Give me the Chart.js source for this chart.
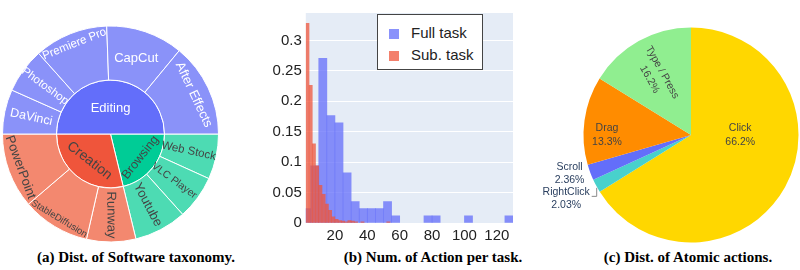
<!DOCTYPE html>
<html>
<head>
<meta charset="utf-8">
<script src="https://cdn.jsdelivr.net/npm/chart.js@4.4.1/dist/chart.umd.min.js"></script>
<style>
  body { margin: 0; width: 800px; height: 270px; background: #fff; position: relative; overflow: hidden;
         font-family: "Liberation Sans", Arial, sans-serif; }
  canvas { position: absolute; }
  .cap { position: absolute; top: 249px; transform: translateX(-50%); white-space: nowrap;
         font: bold 15px "Liberation Serif", "Times New Roman", serif; color: #000; }
  #legend { position: absolute; left: 377px; top: 14px; width: 106px; height: 56px; box-sizing: border-box;
            border: 1px solid #444; background: #fff; }
  #legend .row { position: absolute; left: 11px; height: 18px; line-height: 18px; font-size: 15px; color: #222; }
  #legend .sw { display: inline-block; width: 10px; height: 10px; vertical-align: -1px; margin-right: 12px; }
</style>
</head>
<body>
<canvas id="sunburst" width="221" height="228" style="left:0;top:20px"></canvas>
<canvas id="hist" width="260" height="245" style="left:265px;top:0"></canvas>
<canvas id="pie" width="270" height="216" style="left:530px;top:27px"></canvas>
<div id="legend"></div>
<div class="cap" style="left:136px">(a) Dist. of Software taxonomy.</div>
<div class="cap" style="left:433px">(b) Num. of Action per task.</div>
<div class="cap" style="left:688px">(c) Dist. of Atomic actions.</div>

<script>
// ---- (a) software taxonomy (percent of tasks) ----
const groupLabels = ["Browsing", "Creation", "Editing"];
const groupValues = [21.22, 28.78, 50.0];
const softLabels = ["Web Stock", "VLC Player", "Youtube", "Runway", "StableDiffusion", "PowerPoint",
                    "DaVinci", "Photoshop", "Premiere Pro", "CapCut", "After Effects"];
const softGroup = [0, 0, 0, 1, 1, 1, 2, 2, 2, 2, 2];
const softValues = [6.78, 6.58, 7.86, 7.36, 10.17, 11.25, 6.67, 6.75, 11.03, 11.53, 14.03];

// ---- (b) actions per task histogram ----
const fullBinStart = [0, 5, 10, 15, 20, 25, 30, 35, 40, 45, 50, 55, 75, 80, 100, 125];
const fullShare = [0.0235, 0.0941, 0.2706, 0.1765, 0.1647, 0.0824, 0.0353, 0.0235, 0.0235, 0.0235,
                   0.0353, 0.0118, 0.0118, 0.0118, 0.0118, 0.0118];
const subBinStart = [2, 4, 6, 8, 10, 12, 14, 16, 18, 20, 22, 24, 26, 28, 30, 32, 36, 52];
const subShare = [0.328, 0.226, 0.13, 0.094, 0.062, 0.047, 0.031, 0.021, 0.010, 0.006, 0.004, 0.003,
                  0.002, 0.004, 0.003, 0.002, 0.002, 0.002];
const fullBinWidth = 5;
const subBinWidth = 2;
const xTicks = [20, 40, 60, 80, 100, 120];
const yTicks = [0, 0.05, 0.1, 0.15, 0.2, 0.25, 0.3];
const seriesNames = ["Full task", "Sub. task"];

// ---- (c) atomic actions ----
const actionLabels = ["Click", "RightClick", "Scroll", "Drag", "Type / Press"];
const actionShare = [66.2, 2.03, 2.36, 13.3, 16.2];

// colours
const groupColors = ["#00CC96", "#EF553B", "#636EFA"];
const softColors = ["#4DDBB3", "#F3886F", "#8A92F9"];
const actionColors = ["#FFD700", "#48D1CC", "#636EFA", "#FF8C00", "#90EE90"];
const fullColor = "rgba(99,110,250,0.75)";
const subColor = "rgba(239,85,59,0.75)";

const FONT = '"Liberation Sans", Arial, sans-serif';

// label layout for the sunburst: mode h = horizontal, t = tangential, r = radial
const sunLabelStyle = {
  "Editing": { mode: "h", r: 26, size: 13 },
  "Creation": { mode: "t", r: 34, size: 14 },
  "Browsing": { mode: "t", r: 38, size: 12.5 },
  "CapCut": { mode: "h", r: 80, size: 13 },
  "After Effects": { mode: "t", r: 92, size: 13 },
  "Premiere Pro": { mode: "t", r: 97, size: 11.5 },
  "Photoshop": { mode: "r", r: 81, size: 11.5 },
  "DaVinci": { mode: "r", r: 81, size: 12.5 },
  "PowerPoint": { mode: "t", r: 96, size: 13 },
  "StableDiffusion": { mode: "t", r: 99, size: 9.5 },
  "Runway": { mode: "r", r: 81, size: 13 },
  "Youtube": { mode: "r", r: 80, size: 13 },
  "VLC Player": { mode: "r", r: 79, size: 10.5 },
  "Web Stock": { mode: "r", r: 80, size: 11.5 }
};

function upright(a) {
  a = ((a % (2 * Math.PI)) + 2 * Math.PI) % (2 * Math.PI);
  if (a > Math.PI / 2 && a < 3 * Math.PI / 2) a -= Math.PI;
  return a;
}

const sunLabels = {
  id: "sunLabels",
  afterDatasetsDraw(chart) {
    const ctx = chart.ctx;
    chart.data.datasets.forEach((ds, d) => {
      const meta = chart.getDatasetMeta(d);
      meta.data.forEach((arc, i) => {
        const p = arc.getProps(["x", "y", "startAngle", "endAngle"], true);
        const name = ds.labels[i];
        const st = sunLabelStyle[name];
        const mid = (p.startAngle + p.endAngle) / 2;
        const white = d === 0 ? softGroup[i] === 2 : i === 2;
        let rot = 0;
        if (st.mode === "t") rot = upright(mid + Math.PI / 2);
        if (st.mode === "r") rot = upright(mid);
        ctx.save();
        ctx.translate(p.x + st.r * Math.cos(mid), p.y + st.r * Math.sin(mid));
        ctx.rotate(rot);
        ctx.font = st.size + "px " + FONT;
        ctx.fillStyle = white ? "#fff" : "#444";
        ctx.textAlign = "center";
        ctx.textBaseline = "middle";
        ctx.fillText(name, 0, 0);
        ctx.restore();
      });
    });
  }
};

new Chart(document.getElementById("sunburst"), {
  type: "doughnut",
  data: {
    datasets: [
      { labels: softLabels, data: softValues, backgroundColor: softGroup.map(g => softColors[g]) },
      { labels: groupLabels, data: groupValues, backgroundColor: groupColors }
    ]
  },
  options: {
    responsive: false,
    animation: false,
    rotation: 90,
    cutout: 0,
    radius: 108,
    borderColor: "#fff",
    borderWidth: 1,
    hoverOffset: 0,
    layout: { padding: 0 },
    plugins: { legend: { display: false }, tooltip: { enabled: false } }
  },
  plugins: [sunLabels]
});

// ---- histogram ----
const plotBg = {
  id: "plotBg",
  beforeDraw(chart) {
    const a = chart.chartArea;
    chart.ctx.save();
    chart.ctx.fillStyle = "#E5ECF6";
    chart.ctx.fillRect(a.left, a.top, a.right - a.left, a.bottom - a.top);
    chart.ctx.restore();
  }
};

const tickFont = { family: FONT, size: 15 };

new Chart(document.getElementById("hist"), {
  type: "bar",
  data: {
    datasets: [
      {
        label: seriesNames[0],
        data: fullBinStart.map((s, i) => ({ x: s + fullBinWidth / 2, y: fullShare[i] })),
        backgroundColor: fullColor, xAxisID: "x", order: 1
      },
      {
        label: seriesNames[1],
        data: subBinStart.map((s, i) => ({ x: s + subBinWidth / 2, y: subShare[i] })),
        backgroundColor: subColor, xAxisID: "x2", order: 0
      }
    ]
  },
  options: {
    responsive: false,
    animation: false,
    layout: { padding: { top: 3, right: 12, left: 0, bottom: 0 } },
    datasets: { bar: { barPercentage: 1, categoryPercentage: 1, grouped: false, borderWidth: 0 } },
    scales: {
      x: {
        type: "linear", min: 2, max: 130, offset: false,
        afterBuildTicks: s => { s.ticks = xTicks.map(v => ({ value: v })); },
        afterFit: s => { s.height = 22; s.paddingLeft = 0; s.paddingRight = 0; },
        grid: { display: false, offset: false, drawTicks: false },
        border: { display: false },
        ticks: { font: tickFont, color: "#222", padding: 4, maxRotation: 0, callback: v => String(v) }
      },
      x2: { type: "linear", min: 2, max: 130, offset: false, display: false, grid: { offset: false } },
      y: {
        min: 0, max: 0.345,
        afterBuildTicks: s => { s.ticks = yTicks.map(v => ({ value: v })); },
        afterFit: s => { s.width = 40.8; },
        grid: { color: "#fff", lineWidth: 1, drawTicks: false },
        border: { display: false },
        ticks: { font: tickFont, color: "#222", padding: 4, callback: v => String(v) }
      }
    },
    plugins: { legend: { display: false }, tooltip: { enabled: false } }
  },
  plugins: [plotBg]
});

const legendEl = document.getElementById("legend");
[fullColor, subColor].forEach((c, i) => {
  const row = document.createElement("div");
  row.className = "row";
  row.style.top = (9 + i * 21.5) + "px";
  row.innerHTML = '<span class="sw" style="background:' + c + '"></span>' + seriesNames[i];
  legendEl.appendChild(row);
});

// ---- pie ----
// label placement relative to the pie centre, in units of the radius
const pieLabelPos = {
  "Click": { dx: 0.458, dy: 0, rot: 0, inside: true },
  "RightClick": { dx: -1.161, dy: 0.594, rot: 0, inside: false, leader: true },
  "Scroll": { dx: -1.13, dy: 0.356, rot: 0, inside: false },
  "Drag": { dx: -0.782, dy: 0, rot: 0, inside: true },
  "Type / Press": { dx: -0.326, dy: -0.55, rot: 61, inside: true }
};

const pieLabels = {
  id: "pieLabels",
  afterDatasetsDraw(chart) {
    const ctx = chart.ctx;
    const meta = chart.getDatasetMeta(0);
    meta.data.forEach((arc, i) => {
      const p = arc.getProps(["x", "y", "outerRadius"], true);
      const name = actionLabels[i];
      const lp = pieLabelPos[name];
      const R = p.outerRadius;
      const cx = p.x + lp.dx * R, cy = p.y + lp.dy * R;
      ctx.save();
      if (lp.leader) {
        ctx.strokeStyle = "#8a8a8a";
        ctx.lineWidth = 1;
        ctx.beginPath();
        ctx.moveTo(cx + 25.5, cy - 2.5);
        ctx.lineTo(cx + 30.5, cy - 2.5);
        ctx.lineTo(cx + 30.5, cy - 11);
        ctx.stroke();
      }
      ctx.translate(cx, cy);
      ctx.rotate(lp.rot * Math.PI / 180);
      ctx.font = "10.5px " + FONT;
      ctx.fillStyle = lp.inside ? "#444" : "#2a3f5f";
      ctx.textAlign = "center";
      ctx.textBaseline = "middle";
      const lines = [name, actionShare[i].toPrecision(3) + "%"];
      const gap = lp.rot ? 14.5 : 13.3;
      ctx.fillText(lines[0], 0, -gap / 2);
      ctx.fillText(lines[1], 0, gap / 2);
      ctx.restore();
    });
  }
};

new Chart(document.getElementById("pie"), {
  type: "pie",
  data: {
    labels: actionLabels,
    datasets: [{ data: actionShare, backgroundColor: actionColors, borderWidth: 0 }]
  },
  options: {
    responsive: false,
    animation: false,
    radius: 107.5,
    hoverOffset: 0,
    layout: { padding: { left: 52, right: 0, top: 0, bottom: 0 } },
    plugins: { legend: { display: false }, tooltip: { enabled: false } }
  },
  plugins: [pieLabels]
});
</script>
</body>
</html>
